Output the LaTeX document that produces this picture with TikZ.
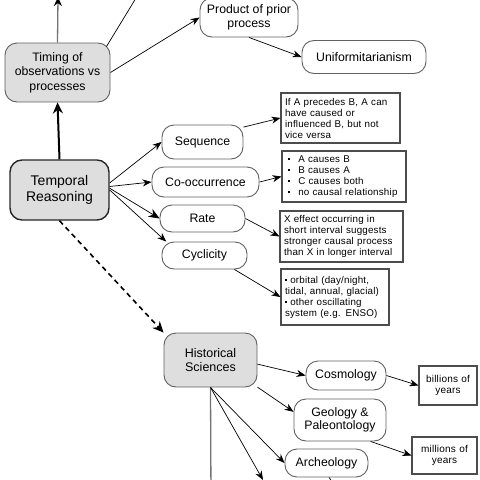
\documentclass[tikz,border=0pt]{standalone}
\usepackage{fontspec}
\setmainfont{Liberation Sans}
\newfontfamily\boxfont[LetterSpace=2]{Liberation Sans}
\usetikzlibrary{arrows.meta}
\newcommand\sqbul{\raisebox{2.2pt}{\rule{2pt}{2pt}}}
\begin{document}
\begin{tikzpicture}[x=1pt,y=-1pt,
  rnd/.style={draw=black!62, line width=0.9pt, fill=white, rounded corners=12pt, align=center, inner sep=0pt, font=\fontsize{12.3}{14.5}\selectfont},
  mainbox/.style={rnd, fill=black!13},
  descbox/.style={draw=black!70, line width=1.1pt, fill=white, align=left, inner xsep=4pt, inner ysep=0pt, font=\boxfont\fontsize{9.8}{11}\selectfont},
  arr/.style={-{Stealth[length=9pt,width=7pt]}, line width=0.7pt},
  bigarr/.style={-{Stealth[length=11pt,width=9pt]}, line width=0.7pt},
  grayarr/.style={draw=black!55, line width=1.3pt, -{Stealth[length=9pt,width=8pt,black]}},
  thickarr/.style={line width=2pt, -{Stealth[length=11pt,width=10pt]}},
  dasharr/.style={line width=1.6pt, dash pattern=on 5pt off 4pt, -{Stealth[length=11pt,width=10pt]}}
]
\useasboundingbox (0,0) rectangle (480,480);
\clip (0,0) rectangle (480,480);
\fill[white] (0,0) rectangle (480,480);

% off-canvas coordinates
\coordinate (uptop) at (58,-3);
\coordinate (upright) at (147,-20);
\coordinate (downleft) at (211,500);
\coordinate (downmid) at (263,480);
\coordinate (downarch) at (345,500);

% nodes
\node[mainbox, minimum width=105pt, minimum height=59pt] (timing) at (57.5,72.5) {Timing of\\observations vs\\processes};
\node[rnd, minimum width=98pt, minimum height=39pt] (product) at (249,17.5) {Product of prior\\process};
\node[rnd, minimum width=124pt, minimum height=33pt] (unif) at (364,57) {Uniformitarianism};

\node[mainbox, draw=black!85, line width=1.4pt, minimum width=99pt, minimum height=60pt, font=\fontsize{14}{16}\selectfont] (temporal) at (59.5,190) {Temporal\\Reasoning};

\node[rnd, minimum width=81pt, minimum height=34pt] (seq) at (202.5,142) {Sequence};
\node[rnd, minimum width=107pt, minimum height=30pt] (cooc) at (205.5,182) {Co-occurrence};
\node[rnd, minimum width=85pt, minimum height=27pt] (rate) at (202.5,218.5) {Rate};
\node[rnd, minimum width=85pt, minimum height=27pt] (cyc) at (204.5,255.5) {Cyclicity};

\node[descbox, text width=111pt, minimum height=50pt] (bseq) at (340.5,118) {If A precedes B, A can\\have caused or\\influenced B, but not\\vice versa};
\node[descbox, text width=116pt, minimum height=51pt] (bcooc) at (344,176.5) {\hspace*{2pt}\sqbul\hspace{5pt} A causes B\\\hspace*{2pt}\sqbul\hspace{5pt} B causes A\\\hspace*{2pt}\sqbul\hspace{5pt} C causes both\\\hspace*{2pt}\sqbul\hspace{5pt} no causal relationship};
\node[descbox, text width=115pt, minimum height=51pt] (brate) at (341.5,236.5) {X effect occurring in\\short interval suggests\\stronger causal process\\than X in longer interval};
\node[descbox, text width=100pt, minimum height=56pt] (bcyc) at (335,297) {\sqbul\ orbital (day/night,\\tidal, annual, glacial)\\\sqbul\ other oscillating\\system (e.g. ENSO)};

\node[mainbox, minimum width=93pt, minimum height=54pt, font=\fontsize{12.5}{13.5}\selectfont] (hist) at (210.5,360) {Historical\\Sciences};
\node[rnd, minimum width=80pt, minimum height=29pt] (cosmo) at (346,375.5) {Cosmology};
\node[rnd, minimum width=92pt, minimum height=42pt, font=\fontsize{12.3}{13.5}\selectfont] (geo) at (340,420) {Geology \&\\Paleontology};
\node[rnd, minimum width=83pt, minimum height=28pt] (arch) at (326.5,463) {Archeology};
\node[descbox, align=center, text width=50pt, minimum height=39pt, font=\boxfont\fontsize{10}{11}\selectfont] (bill) at (448,385.5) {billions of\\years};
\node[descbox, align=center, text width=57pt, minimum height=37pt, font=\boxfont\fontsize{10}{11}\selectfont] (mill) at (444.5,455.5) {millions of\\years};

% connectors
\draw[grayarr] (timing.north) -- (uptop);
\draw[line width=0.7pt] ([shift={(-4,4)}]timing.north east) -- (upright);
\draw[arr] (timing.east) -- (product.west);
\draw[arr] (product.south) -- (unif.west);
\draw[thickarr] (temporal.north) -- (timing.south);

\draw[arr] (temporal.8) -- (seq.west);
\draw[arr] (temporal.4) -- (cooc.west);
\draw[bigarr] (temporal.2) -- (rate.west);
\draw[arr] (temporal.0) -- (cyc.160);

\draw[arr] (seq.20) -- (bseq.west);
\draw[arr] (cooc.east) -- (bcooc.west);
\draw[arr] (rate.east) -- (brate.west);
\draw[arr] (cyc.-25) -- (bcyc.west);

\draw[dasharr] (temporal.south) -- (hist.north west);

\draw[draw=black!55, line width=1.3pt] (hist.south) -- (downleft);
\draw[arr] (hist.-5) -- (cosmo.west);
\draw[arr] (hist.-30) -- (geo.170);
\draw[arr] (hist.south) -- (arch.west);
\draw[arr] (hist.south) -- (downmid);
\draw[line width=0.7pt] (arch.-80) -- (downarch);
\draw[arr] (cosmo.east) -- (bill.west);
\draw[arr] (geo.-35) -- (mill.west);
\end{tikzpicture}
\end{document}
